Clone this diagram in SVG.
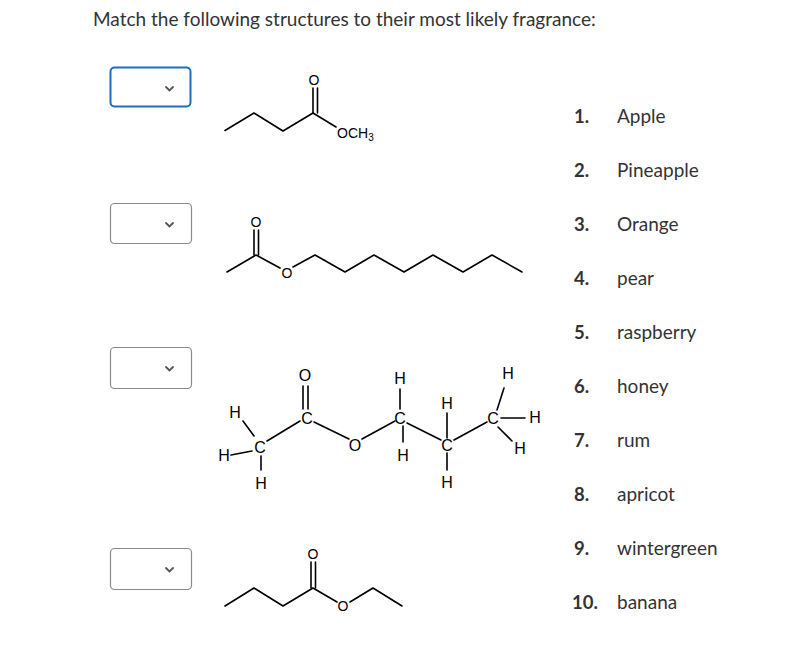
<svg xmlns="http://www.w3.org/2000/svg" width="806" height="662" viewBox="0 0 806 662">
<style>
.t{font-family:Lato,"Liberation Sans",sans-serif;font-size:19px;fill:#333}
.n{font-family:Lato,"Liberation Sans",sans-serif;font-size:18.5px;fill:#333;font-weight:bold}
.a{font-family:"Liberation Sans",Arial,sans-serif;font-size:16px;fill:#000;text-anchor:middle}
.s{font-family:"Liberation Sans",Arial,sans-serif;font-size:14px;fill:#000}
.b{stroke:#000;stroke-width:1.6;fill:none;stroke-linecap:round;stroke-linejoin:round}
.box{fill:#fff;stroke:#8a8a8a;stroke-width:1.2}
.chev{fill:none;stroke:#555;stroke-width:1.8;stroke-linecap:round}
</style>
<rect width="806" height="662" fill="#fff"/>
<text class="t" x="93" y="26">Match the following structures to their most likely fragrance:</text>
<g id="dd1"><rect class="box" x="110.5" y="67.5" width="80" height="39" rx="4" style="stroke:#1b6fc2;stroke-width:2"/><path class="chev" d="M166 87l3.5 3.5 3.5-3.5"/></g>
<g id="dd2"><rect class="box" x="110.5" y="203.5" width="81" height="40" rx="4"/><path class="chev" d="M166 223l3.5 3.5 3.5-3.5"/></g>
<g id="dd3"><rect class="box" x="110.5" y="347.5" width="81" height="41" rx="4"/><path class="chev" d="M166 367l3.5 3.5 3.5-3.5"/></g>
<g id="dd4"><rect class="box" x="110.5" y="548.5" width="81" height="41" rx="4"/><path class="chev" d="M166 568l3.5 3.5 3.5-3.5"/></g>
<g id="s1">
<polyline class="b" points="225,130.5 254,113 283,131 313,113 336,127"/>
<path class="b" d="M313 113V88M317.5 113V88"/>
<text class="s" x="314" y="85" text-anchor="middle">O</text>
<text class="s" x="337" y="138">OCH<tspan font-size="10" dy="3">3</tspan></text>
</g>
<g id="s2">
<polyline class="b" points="227,272 256,255 280,268"/>
<polyline class="b" points="293,267 315,255 345,272 374,255 404,272 433,255 463,272 492,255 522,272"/>
<path class="b" d="M254 255V230M258.5 255V230"/>
<text class="s" x="256" y="227" text-anchor="middle">O</text>
<text class="s" x="287" y="278" text-anchor="middle">O</text>
</g>
<g id="s3">
<text class="a" x="235" y="418">H</text>
<text class="a" x="224" y="461">H</text>
<text class="a" x="260" y="453">C</text>
<text class="a" x="261" y="489">H</text>
<text class="a" x="307" y="424">C</text>
<text class="a" x="305" y="381">O</text>
<text class="a" x="355" y="451">O</text>
<text class="a" x="400" y="424">C</text>
<text class="a" x="400" y="384">H</text>
<text class="a" x="403" y="461">H</text>
<text class="a" x="447" y="451">C</text>
<text class="a" x="447" y="409">H</text>
<text class="a" x="447" y="488">H</text>
<text class="a" x="493" y="424">C</text>
<text class="a" x="508" y="379">H</text>
<text class="a" x="535" y="423">H</text>
<text class="a" x="520" y="454">H</text>
<path class="b" d="M243 421L254 436M231 455L252 451M261 456V470M267 441L300 421M303 409V386M308 409V386M314 422L349 439M362 439L395 421M400 409V389M403 426V442M407 423L441 440M447 438V413M447 453V470M454 440L487 422M497 410L504 388M501 418H525M498 427L512 441"/>
</g>
<g id="s4">
<polyline class="b" points="225,606 254,588 283,606 313,588 337,602"/>
<polyline class="b" points="350,602 373,588 402,606"/>
<path class="b" d="M311 588V562M315.5 588V562"/>
<text class="s" x="313" y="559" text-anchor="middle">O</text>
<text class="s" x="343" y="611" text-anchor="middle">O</text>
</g>
<g id="list">
<text class="n" x="574" y="123">1.</text><text class="t" x="617" y="123">Apple</text>
<text class="n" x="574" y="177">2.</text><text class="t" x="617" y="177">Pineapple</text>
<text class="n" x="574" y="231">3.</text><text class="t" x="617" y="231">Orange</text>
<text class="n" x="574" y="285">4.</text><text class="t" x="617" y="285">pear</text>
<text class="n" x="574" y="339">5.</text><text class="t" x="617" y="339">raspberry</text>
<text class="n" x="574" y="393">6.</text><text class="t" x="617" y="393">honey</text>
<text class="n" x="574" y="447">7.</text><text class="t" x="617" y="447">rum</text>
<text class="n" x="574" y="501">8.</text><text class="t" x="617" y="501">apricot</text>
<text class="n" x="574" y="555">9.</text><text class="t" x="617" y="555">wintergreen</text>
<text class="n" x="572" y="609">10.</text><text class="t" x="617" y="609">banana</text>
</g>
</svg>
